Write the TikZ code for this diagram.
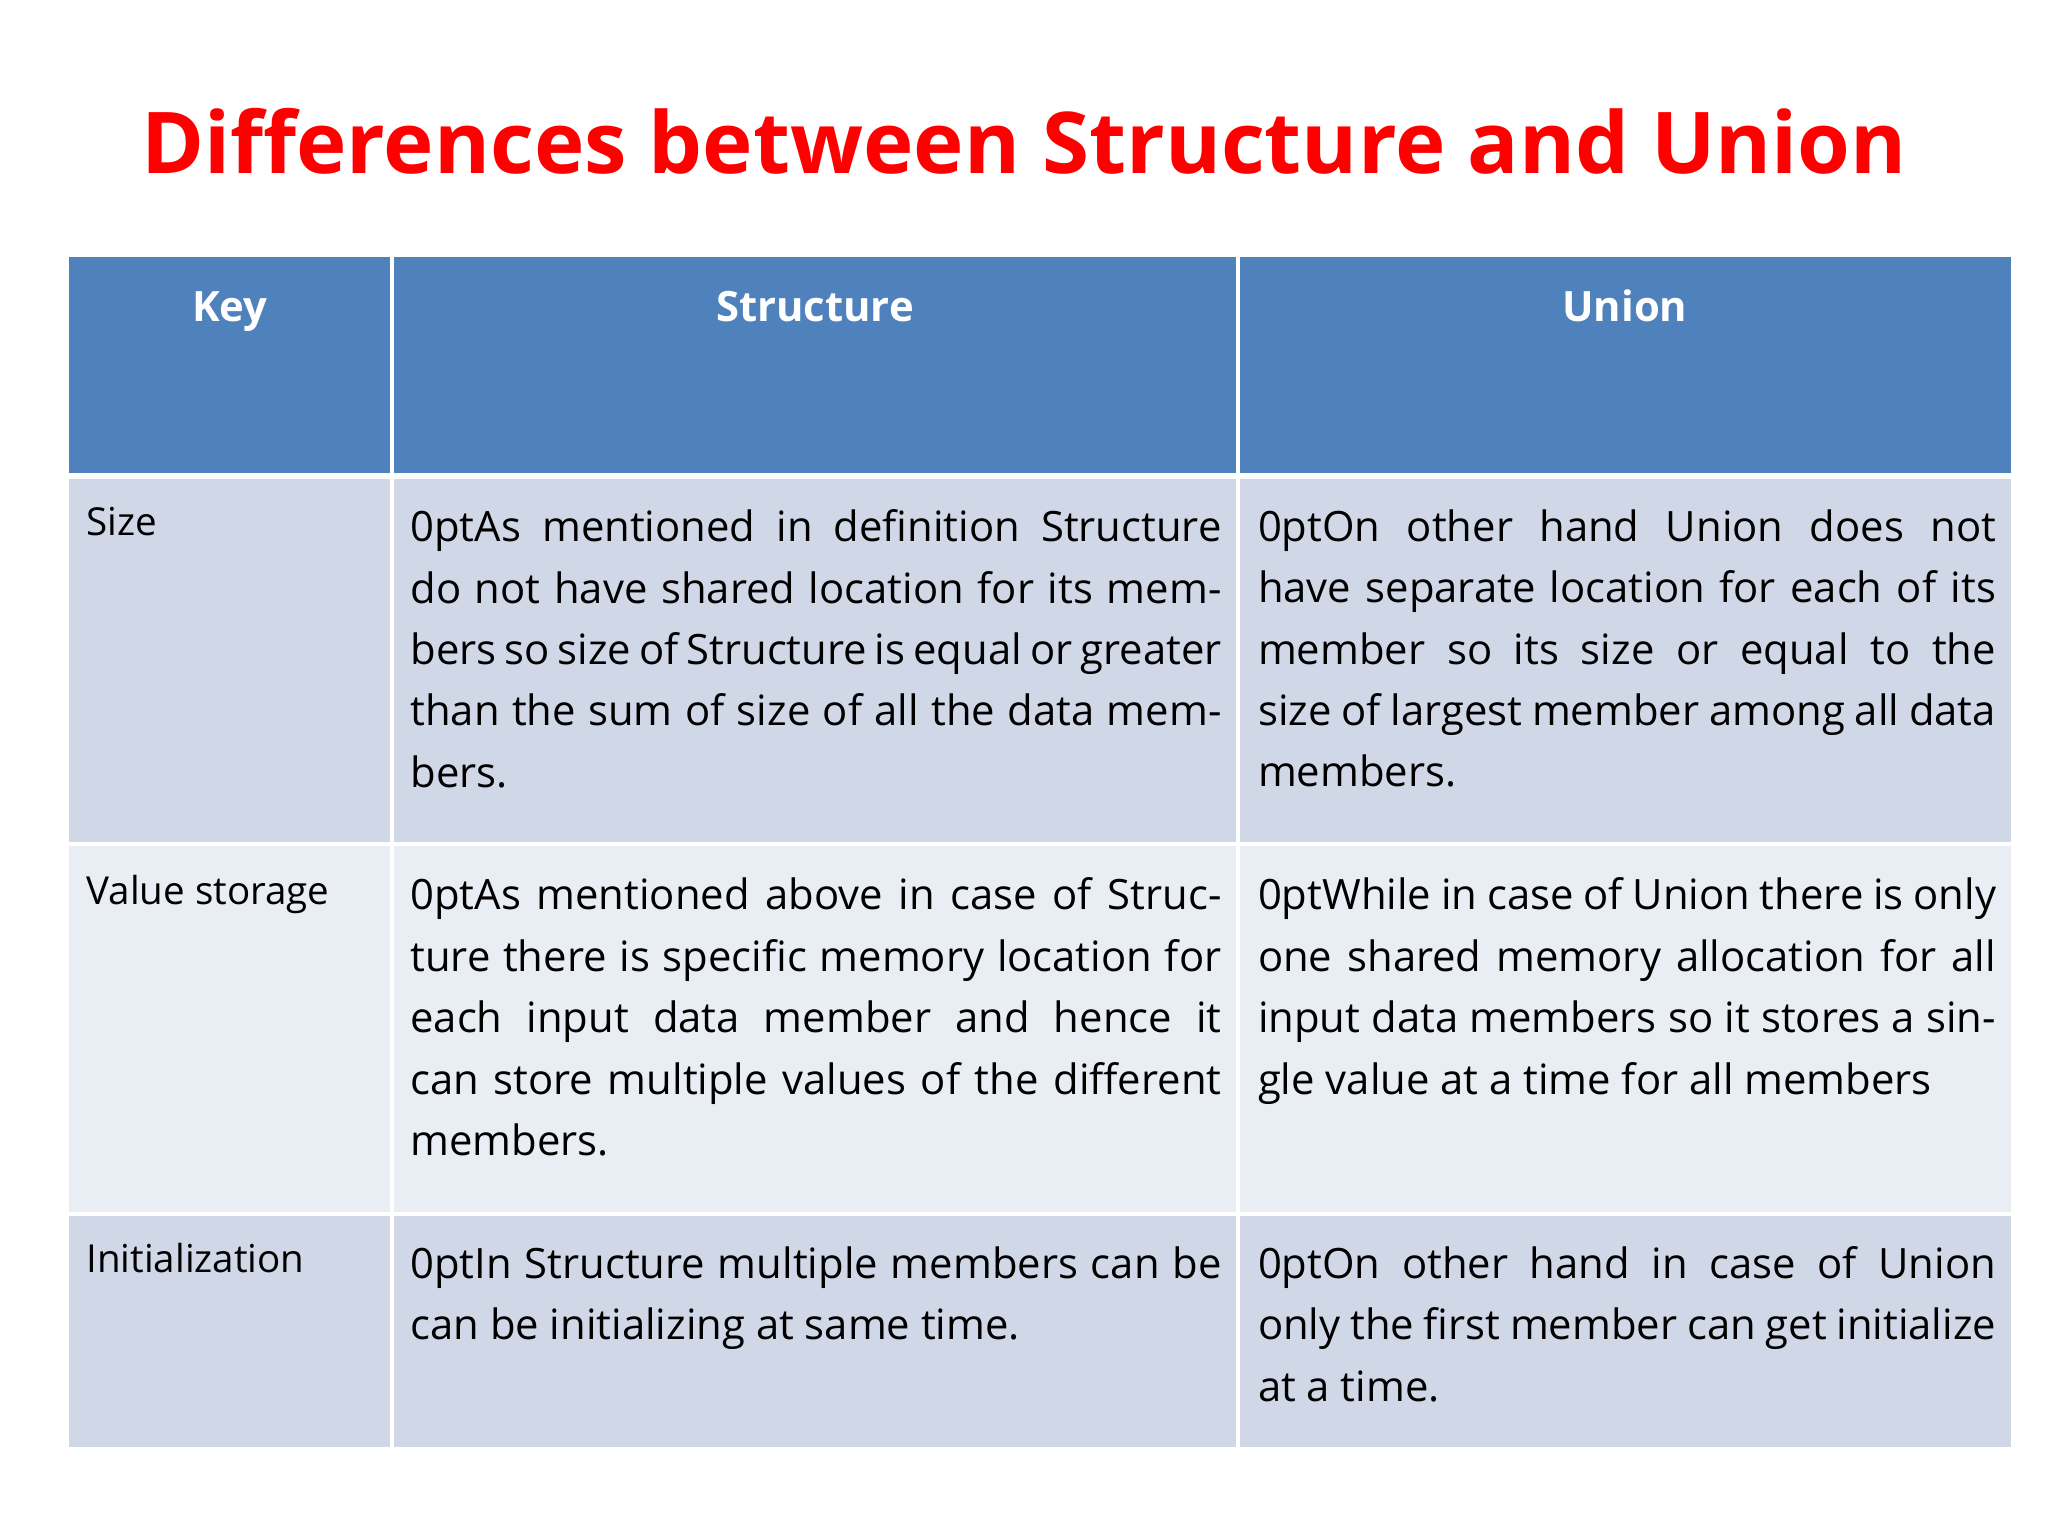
\documentclass[tikz,border=0pt]{standalone}
\usepackage{fontspec}
\setmainfont{Open Sans}
\begin{document}
\begin{tikzpicture}[x=1pt,y=-1pt,
 body/.style={anchor=north west,inner sep=0pt,align=justify,font=\fontsize{32}{47}\selectfont\hyphenpenalty=10000\relax\exhyphenpenalty=10000\relax},
 keyt/.style={anchor=north west,inner sep=0pt,align=left,font=\fontsize{29.5}{34}\selectfont},
 head/.style={anchor=base,inner sep=0pt,text=white,font=\fontsize{32}{40}\selectfont\bfseries}]
\definecolor{hdr}{HTML}{4F81BD}
\definecolor{rowa}{HTML}{D0D8E8}
\definecolor{rowb}{HTML}{E9EDF4}
\useasboundingbox[fill=white] (0,0) rectangle (1568,1176);
\node[anchor=base,text=red,font=\fontsize{65.3}{80}\selectfont\bfseries] (title) at (784,133) {Differences between Structure and Union};
% backgrounds
\fill[hdr] (53,197) rectangle (1540,362);
\fill[rowa] (53,365) rectangle (1540,645);
\fill[rowb] (53,648) rectangle (1540,928);
\fill[rowa] (53,931) rectangle (1540,1108);
\draw[white,line width=3pt] (53,365) -- (1540,365) (53,646.5) -- (1540,646.5) (53,929.5) -- (1540,929.5)
 (300,197) -- (300,1108) (948,197) -- (948,1108);
% header
\node[head] (h1) at (176,246) {Key};
\node[head] (h2) at (624,246) {Structure};
\node[head] (h3) at (1244,246) {Union};
% key column
\node[keyt] (k1) at (66,388) {Size};
\node[keyt] (k2) at (66,670) {Value storage};
\node[keyt] (k3) at (66,952) {Initialization};
% row 1
\node[body,text width=621] (s1) at (314,390) {As mentioned in definition Structure do not have shared location for its members so size of Structure is equal or greater than the sum of size of all the data members.};
\node[body,text width=565] (u1) at (963,390) {On other hand Union does not have separate location for each of its member so its size or equal to the size of largest member among all data members.};
% row 2
\node[body,text width=621] (s2) at (314,672) {As mentioned above in case of Structure there is specific memory location for each input data member and hence it can store multiple values of the different members.};
\node[body,text width=565] (u2) at (963,672) {While in case of Union there is only one shared memory allocation for all input data members so it stores a single value at a time for all members};
% row 3
\node[body,text width=621] (s3) at (314,954) {In Structure multiple members can be can be initializing at same time.};
\node[body,text width=565] (u3) at (963,954) {On other hand in case of Union only the first member can get initialize at a time.};
\end{tikzpicture}
\end{document}
